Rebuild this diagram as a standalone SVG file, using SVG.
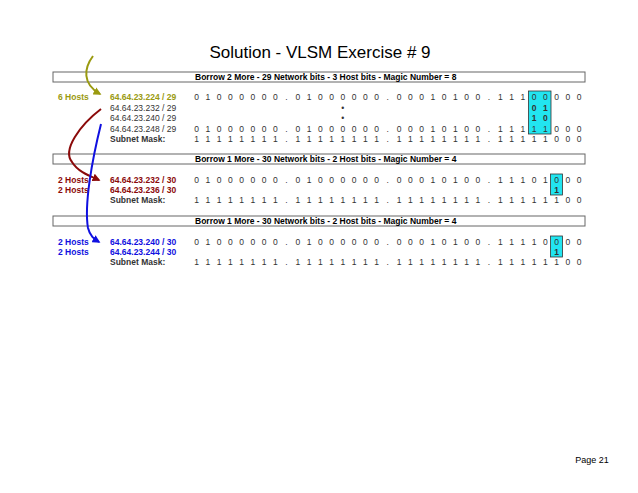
<svg xmlns="http://www.w3.org/2000/svg" width="638" height="493" viewBox="0 0 638 493">
<defs>
<style>
text{font-family:"Liberation Sans",Arial,sans-serif;font-size:8.5px;fill:#333}
.b{font-weight:bold}
.bits{text-anchor:middle}
.hdr{font-weight:bold;fill:#000}
.o{fill:#9a9a10;font-weight:bold}
.r{fill:#8b0a0a;font-weight:bold}
.u{fill:#1010e0;font-weight:bold}
.box{fill:#fff;stroke:#666;stroke-width:1}
.cy{fill:#22e5f0;stroke:#333;stroke-width:0.8}
.arr{fill:none;stroke-width:2}
</style>
<marker id="mo" viewBox="0 0 10 10" refX="8" refY="5" markerWidth="4" markerHeight="4" orient="auto"><path d="M0,0L10,5L0,10z" fill="#9a9a10"/></marker>
<marker id="mr" viewBox="0 0 10 10" refX="8" refY="5" markerWidth="4" markerHeight="4" orient="auto"><path d="M0,0L10,5L0,10z" fill="#8b0a0a"/></marker>
<marker id="mu" viewBox="0 0 10 10" refX="8" refY="5" markerWidth="4" markerHeight="4" orient="auto"><path d="M0,0L10,5L0,10z" fill="#1010e0"/></marker>
</defs>
<rect width="638" height="493" fill="#fff"/>
<text x="320" y="58" style="font-size:17px;fill:#000;text-anchor:middle">Solution - VLSM Exercise # 9</text>

<g id="sec1">
<rect class="box" x="53" y="72" width="532" height="10"/>
<text class="hdr" x="195" y="80">Borrow 2 More - 29 Network bits - 3 Host bits - Magic Number = 8</text>
<rect class="cy" x="528.5" y="91" width="22.5" height="43"/>
<text class="o" x="58" y="100">6 Hosts</text>
<text class="o" x="110" y="100">64.64.23.224 / 29</text>
<text x="110" y="111">64.64.23.232 / 29</text>
<text x="110" y="121">64.64.23.240 / 29</text>
<text x="110" y="132">64.64.23.248 / 29</text>
<text class="b" x="110" y="142">Subnet Mask:</text>
<text class="bits" x="196.5 207.75 219 230.25 241.5 252.75 264 275.25 286.5 297.75 309 320.25 331.5 342.75 354 365.25 376.5 387.75 399 410.25 421.5 432.75 444 455.25 466.5 477.75 489 500.25 511.5 522.75 534 545.25 556.5 567.75 579" y="100">01000000.01000000.00010100.11100000</text>
<text class="bits" x="342.75" y="111">•</text>
<text class="bits b" x="534 545.25" y="111">01</text>
<text class="bits" x="342.75" y="121">•</text>
<text class="bits b" x="534 545.25" y="121">10</text>
<text class="bits" x="196.5 207.75 219 230.25 241.5 252.75 264 275.25 286.5 297.75 309 320.25 331.5 342.75 354 365.25 376.5 387.75 399 410.25 421.5 432.75 444 455.25 466.5 477.75 489 500.25 511.5 522.75 534 545.25 556.5 567.75 579" y="132">01000000.01000000.00010100.11111000</text>
<text class="bits" x="196.5 207.75 219 230.25 241.5 252.75 264 275.25 286.5 297.75 309 320.25 331.5 342.75 354 365.25 376.5 387.75 399 410.25 421.5 432.75 444 455.25 466.5 477.75 489 500.25 511.5 522.75 534 545.25 556.5 567.75 579" y="142">11111111.11111111.11111111.11111000</text>
</g>

<g id="sec2">
<rect class="box" x="53" y="154" width="532" height="10"/>
<text class="hdr" x="195" y="162">Borrow 1 More - 30 Network bits - 2 Host bits - Magic Number = 4</text>
<rect class="cy" x="550.5" y="174" width="12" height="21"/>
<text class="r" x="58" y="183">2 Hosts</text>
<text class="r" x="58" y="193">2 Hosts</text>
<text class="r" x="110" y="183">64.64.23.232 / 30</text>
<text class="r" x="110" y="193">64.64.23.236 / 30</text>
<text class="b" x="110" y="203">Subnet Mask:</text>
<text class="bits" x="196.5 207.75 219 230.25 241.5 252.75 264 275.25 286.5 297.75 309 320.25 331.5 342.75 354 365.25 376.5 387.75 399 410.25 421.5 432.75 444 455.25 466.5 477.75 489 500.25 511.5 522.75 534 545.25 556.5 567.75 579" y="183">01000000.01000000.00010100.11101000</text>
<text class="bits b" x="556.5" y="193">1</text>
<text class="bits" x="196.5 207.75 219 230.25 241.5 252.75 264 275.25 286.5 297.75 309 320.25 331.5 342.75 354 365.25 376.5 387.75 399 410.25 421.5 432.75 444 455.25 466.5 477.75 489 500.25 511.5 522.75 534 545.25 556.5 567.75 579" y="203">11111111.11111111.11111111.11111100</text>
</g>

<g id="sec3">
<rect class="box" x="53" y="216" width="532" height="10"/>
<text class="hdr" x="195" y="224">Borrow 1 More - 30 Network bits - 2 Host bits - Magic Number = 4</text>
<rect class="cy" x="550.5" y="236" width="12" height="21"/>
<text class="u" x="58" y="245">2 Hosts</text>
<text class="u" x="58" y="255">2 Hosts</text>
<text class="u" x="110" y="245">64.64.23.240 / 30</text>
<text class="u" x="110" y="255">64.64.23.244 / 30</text>
<text class="b" x="110" y="265">Subnet Mask:</text>
<text class="bits" x="196.5 207.75 219 230.25 241.5 252.75 264 275.25 286.5 297.75 309 320.25 331.5 342.75 354 365.25 376.5 387.75 399 410.25 421.5 432.75 444 455.25 466.5 477.75 489 500.25 511.5 522.75 534 545.25 556.5 567.75 579" y="245">01000000.01000000.00010100.11110000</text>
<text class="bits b" x="556.5" y="255">1</text>
<text class="bits" x="196.5 207.75 219 230.25 241.5 252.75 264 275.25 286.5 297.75 309 320.25 331.5 342.75 354 365.25 376.5 387.75 399 410.25 421.5 432.75 444 455.25 466.5 477.75 489 500.25 511.5 522.75 534 545.25 556.5 567.75 579" y="265">11111111.11111111.11111111.11111100</text>
</g>

<g id="connectors">
<path class="arr" stroke="#9a9a10" marker-end="url(#mo)" d="M93,56 C84,68 82,84 100,94"/>
<path class="arr" stroke="#8b0a0a" marker-end="url(#mr)" d="M101,109 C80,125 62,150 72,162 C78,172 90,176 99,180"/>
<path class="arr" stroke="#1010e0" marker-end="url(#mu)" d="M101,124 C92,160 84,205 88,228 C90,236 94,239 99,242"/>
</g>
<text x="592" y="463" style="font-size:9px;fill:#000;text-anchor:middle">Page 21</text>
</svg>
